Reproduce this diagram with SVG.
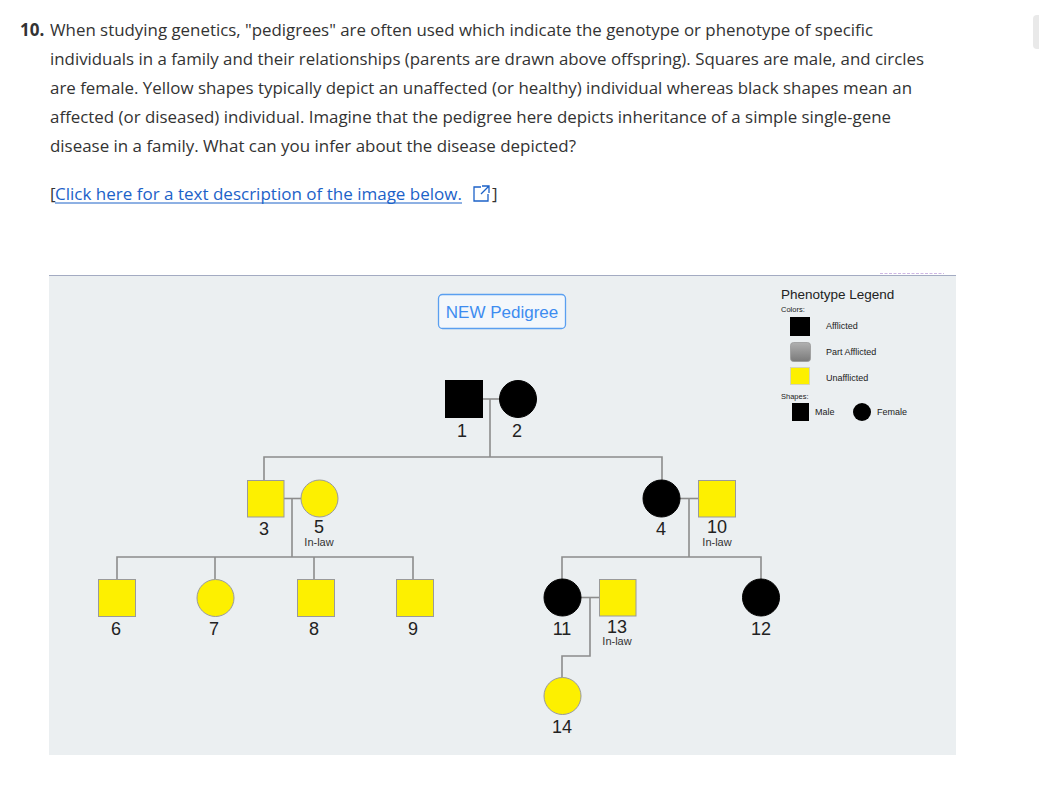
<svg xmlns="http://www.w3.org/2000/svg" width="1039" height="796" viewBox="0 0 1039 796">
<style>
.q{font-family:"Open Sans","Noto Sans",sans-serif;font-size:17px;fill:#333}
.lnk{font-family:"Open Sans","Noto Sans",sans-serif;font-size:17px;fill:#1c62c8}
.lbl{font-family:"Liberation Sans",Arial,sans-serif;font-size:18px;fill:#222;text-anchor:middle}
.inl{font-family:"Liberation Sans",Arial,sans-serif;font-size:11px;fill:#333;text-anchor:middle}
.lg{font-family:"Liberation Sans",Arial,sans-serif;fill:#222}
.y{fill:#fdf000;stroke:#9a9a9a;stroke-width:1}
.b{fill:#000;stroke:#000;stroke-width:1}
.con line,.con path{stroke:#8c8c8c;stroke-width:1.6;fill:none}
</style>
<rect width="1039" height="796" fill="#fff"/>
<rect x="1033" y="15" width="10" height="34" rx="4" fill="#e9e9e9"/>
<g id="question">
<text class="q" x="20" y="36"><tspan font-weight="bold">10.</tspan></text>
<text class="q" x="50" y="36" textLength="823" lengthAdjust="spacingAndGlyphs">When studying genetics, "pedigrees" are often used which indicate the genotype or phenotype of specific</text>
<text class="q" x="50" y="65" textLength="874" lengthAdjust="spacingAndGlyphs">individuals in a family and their relationships (parents are drawn above offspring). Squares are male, and circles</text>
<text class="q" x="50" y="94" textLength="862" lengthAdjust="spacingAndGlyphs">are female. Yellow shapes typically depict an unaffected (or healthy) individual whereas black shapes mean an</text>
<text class="q" x="50" y="123" textLength="841" lengthAdjust="spacingAndGlyphs">affected (or diseased) individual. Imagine that the pedigree here depicts inheritance of a simple single-gene</text>
<text class="q" x="50" y="152" textLength="526" lengthAdjust="spacingAndGlyphs">disease in a family. What can you infer about the disease depicted?</text>
<text class="q" x="50" y="200" fill="#555">[</text>
<text class="lnk" x="55" y="200" textLength="407" lengthAdjust="spacingAndGlyphs">Click here for a text description of the image below.</text>
<line x1="55" y1="203" x2="462" y2="203" stroke="#1c62c8" stroke-width="1"/>
<path d="M481 187 h-7 v14 h14 v-7 M482 186 h7 v7 M489 186 l-8 8" stroke="#1c62c8" stroke-width="1.3" fill="none"/>
<text class="q" x="492" y="200" fill="#555">]</text>
</g>
<rect x="49" y="275" width="907" height="480" fill="#ebeff1"/>
<line x1="49" y1="275.5" x2="956" y2="275.5" stroke="#a3abc2" stroke-width="1"/>
<line x1="880" y1="273.5" x2="944" y2="273.5" stroke="#b89ad8" stroke-width="1" stroke-dasharray="3 1.5" opacity="0.7"/>
<g id="new-pedigree">
<rect x="438.5" y="294.5" width="127" height="34" rx="4" fill="#f3f7fb" stroke="#5a9ff0" stroke-width="1.3"/>
<text x="502" y="318" text-anchor="middle" font-family="Liberation Sans,Arial,sans-serif" font-size="17" fill="#3d8cf0">NEW Pedigree</text>
</g>
<g id="legend">
<text class="lg" x="781" y="299" font-size="13.5">Phenotype Legend</text>
<text class="lg" x="781" y="312" font-size="7.5" fill="#555">Colors:</text>
<rect x="790" y="317" width="20" height="19" fill="#000"/>
<text class="lg" x="826" y="329" font-size="9">Afflicted</text>
<defs><linearGradient id="gr" x1="0" y1="0" x2="0" y2="1"><stop offset="0" stop-color="#b0b0b0"/><stop offset="1" stop-color="#7a7a7a"/></linearGradient></defs>
<rect x="790.5" y="342.5" width="20" height="19" rx="3" fill="url(#gr)" stroke="#999" stroke-width="0.8"/>
<text class="lg" x="826" y="355" font-size="9">Part Afflicted</text>
<rect x="790.5" y="367.5" width="19" height="17" fill="#fdf000" stroke="#ccc" stroke-width="0.8"/>
<text class="lg" x="826" y="381" font-size="9">Unafflicted</text>
<text class="lg" x="781" y="399" font-size="7.5" fill="#555">Shapes:</text>
<rect x="792" y="403" width="17" height="18" fill="#000"/>
<text class="lg" x="815" y="415" font-size="9">Male</text>
<circle cx="862" cy="412" r="9" fill="#000"/>
<text class="lg" x="877" y="415" font-size="9">Female</text>
</g>
<g id="connectors" class="con">
<line x1="483" y1="399" x2="499" y2="399"/>
<line x1="490" y1="399" x2="490" y2="457"/>
<path d="M264 480 V457 H662 V480"/>
<line x1="284" y1="498.5" x2="301" y2="498.5"/>
<line x1="292" y1="498.5" x2="292" y2="557"/>
<path d="M117 579 V557 H413 V579"/>
<line x1="215" y1="557" x2="215" y2="579"/>
<line x1="314" y1="557" x2="314" y2="579"/>
<line x1="680" y1="498.5" x2="698" y2="498.5"/>
<line x1="689" y1="498.5" x2="689" y2="557"/>
<path d="M562 579 V557 H761 V579"/>
<line x1="581" y1="597.5" x2="599" y2="597.5"/>
<path d="M590 597.5 V656 H562 V678"/>
</g>
<g id="n1"><rect class="b" x="445.5" y="380.5" width="37" height="37"/><text class="lbl" x="462" y="437">1</text></g>
<g id="n2"><circle class="b" cx="518" cy="399" r="18.5"/><text class="lbl" x="517" y="437">2</text></g>
<g id="n3"><rect class="y" x="247.5" y="480.5" width="36.5" height="36.5"/><text class="lbl" x="264" y="535">3</text></g>
<g id="n5"><circle class="y" cx="319.5" cy="498.5" r="18.5"/><text class="lbl" x="319" y="533">5</text><text class="inl" x="319" y="546">In-law</text></g>
<g id="n4"><circle class="b" cx="661.5" cy="498.5" r="18.5"/><text class="lbl" x="661" y="535">4</text></g>
<g id="n10"><rect class="y" x="698.5" y="480.5" width="37" height="36.5"/><text class="lbl" x="717" y="533">10</text><text class="inl" x="717" y="546">In-law</text></g>
<g id="n6"><rect class="y" x="98.5" y="579.5" width="37" height="37"/><text class="lbl" x="116" y="635">6</text></g>
<g id="n7"><circle class="y" cx="215.5" cy="598" r="18.5"/><text class="lbl" x="214" y="635">7</text></g>
<g id="n8"><rect class="y" x="297.5" y="579.5" width="37" height="37"/><text class="lbl" x="314" y="635">8</text></g>
<g id="n9"><rect class="y" x="396.5" y="579.5" width="37" height="37"/><text class="lbl" x="413" y="635">9</text></g>
<g id="n11"><circle class="b" cx="562.5" cy="597.5" r="18.5"/><text class="lbl" x="562" y="635">11</text></g>
<g id="n13"><rect class="y" x="599.5" y="579.5" width="36.5" height="36.5"/><text class="lbl" x="617" y="633">13</text><text class="inl" x="617" y="645">In-law</text></g>
<g id="n12"><circle class="b" cx="761" cy="597.5" r="18.5"/><text class="lbl" x="761" y="635">12</text></g>
<g id="n14"><circle class="y" cx="562.5" cy="696" r="18.5"/><text class="lbl" x="562" y="733">14</text></g>
</svg>
